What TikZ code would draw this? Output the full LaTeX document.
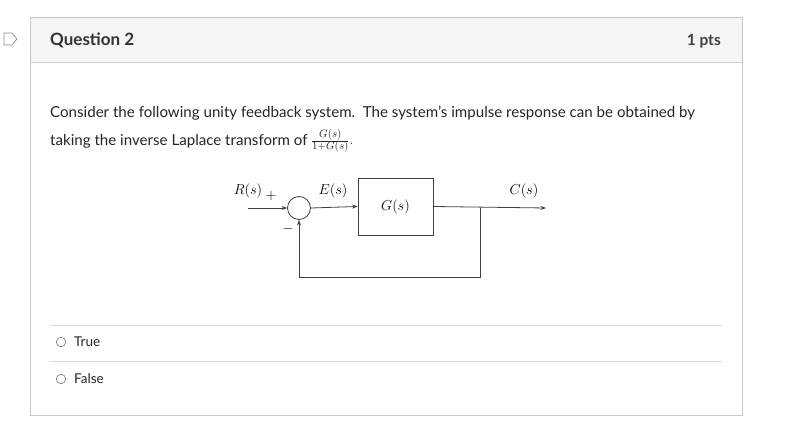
\documentclass[tikz,border=0pt]{standalone}
\usepackage{fontspec}
\setmainfont{Lato}
\usetikzlibrary{arrows.meta}
\newfontfamily\lmr{Latin Modern Roman}
\begin{document}
\begin{tikzpicture}[x=1pt,y=-1pt,
  txt/.style={anchor=west,inner sep=0pt,text=black!85,font=\fontsize{15.1}{17}\selectfont},
  lbl/.style={inner sep=0pt,font=\fontsize{14}{16}\selectfont},
  sig/.style={line width=0.8pt,black!75},
  arr/.style={sig,-{Stealth[length=5.5pt,width=4pt]}},
  opt/.style={circle,draw=black!55,line width=0.6pt,minimum size=9.5pt,inner sep=0pt}]
\useasboundingbox (0,0) rectangle (800,446);
\fill[white] (0,0) rectangle (800,446);
% card
\fill[black!4] (30,17) rectangle (742,62);
\draw[black!22,line width=0.7pt] (30,17) rectangle (742,415);
\draw[black!18,line width=0.7pt] (30,62) -- (742,62);
\draw[black!45,line width=0.7pt] (4,33) -- (12,33) -- (17,39) -- (12,45) -- (4,45) -- cycle;
\node[txt,font=\fontsize{17}{19}\selectfont\bfseries,text=black!80] (q) at (50,40) {Question 2};
\node[anchor=east,inner sep=0pt,font=\fontsize{15.5}{18}\selectfont\bfseries,text=black!75] (p) at (721,41) {1 pts};
\node[txt] (l1) at (50,113) {Consider the following unity feedback system.\enspace The system's impulse response can be obtained by};
\node[txt] (l2) at (50,141) {taking the inverse Laplace transform of};
\node[anchor=west,inner sep=0pt,text=black!85,font=\fontsize{15.5}{17}\selectfont] (fr) at ([xshift=3pt]l2.east) {\lmr$\frac{G(s)}{1+G(s)}$.};
% block diagram
\node[lbl] (R) at (248,191) {\lmr$R(s)$};
\node[lbl] (plus) at (271,196) {\lmr$+$};
\node[circle,draw=black!75,line width=0.8pt,minimum size=23pt,inner sep=0pt] (sum) at (299,208) {};
\node[lbl] (minus) at (288,229) {\lmr$-$};
\node[lbl] (E) at (333,191) {\lmr$E(s)$};
\node[draw=black!75,line width=0.8pt,minimum width=75pt,minimum height=57pt,inner sep=0pt,font=\fontsize{15}{17}\selectfont] (G) at (395.5,206.5) {\lmr$G(s)$};
\node[lbl] (C) at (524,191) {\lmr$C(s)$};
\coordinate (in) at (248,208);
\coordinate (out) at (546,208);
\coordinate (br) at (480,208);
\coordinate (fb) at (480,277);
\coordinate (fb2) at (299,277);
\draw[arr] (in) -- (sum.west);
\draw[arr] (sum.east) -- (G.west);
\draw[arr] (G.east) -- (out);
\draw[arr] (br) -- (fb) -- (fb2) -- (sum.south);
% options
\draw[black!15,line width=0.7pt] (50,325) -- (722,325);
\draw[black!15,line width=0.7pt] (50,361) -- (722,361);
\node[opt] (o1) at (61,342) {};
\node[txt,font=\fontsize{13.5}{16}\selectfont] (t1) at (74,342) {True};
\node[opt] (o2) at (61,379) {};
\node[txt,font=\fontsize{13.5}{16}\selectfont] (t2) at (74,379) {False};
\end{tikzpicture}
\end{document}
